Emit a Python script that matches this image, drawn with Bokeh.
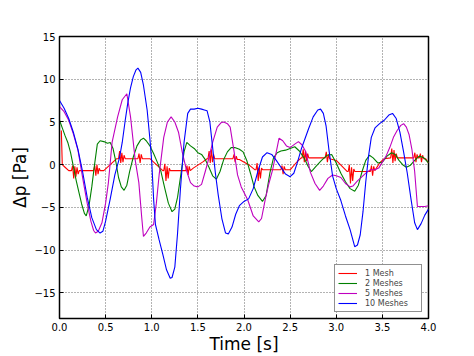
from bokeh.plotting import figure
from bokeh.models import Range1d, FixedTicker, NumeralTickFormatter
from bokeh.embed import file_html
from bokeh.resources import INLINE

# ---------------- data ----------------
x_ticks = [0.0, 0.5, 1.0, 1.5, 2.0, 2.5, 3.0, 3.5, 4.0]
y_ticks = [-15, -10, -5, 0, 5, 10, 15]
series_names = ["1 Mesh", "2 Meshes", "5 Meshes", "10 Meshes"]

t_red = [0.02, 0.03, 0.06, 0.10,
         0.13, 0.142, 0.154, 0.166, 0.178, 0.19, 0.202, 0.214,
         0.37, 0.382, 0.394, 0.406, 0.418, 0.43, 0.442,
         0.48, 0.55, 0.62,
         0.64, 0.652, 0.664, 0.676, 0.688, 0.70, 0.712,
         0.85, 0.862, 0.874, 0.886, 0.898,
         0.98, 1.05, 1.12,
         1.13, 1.142, 1.154, 1.166, 1.178, 1.19, 1.202,
         1.37, 1.382, 1.394, 1.406, 1.418,
         1.45, 1.55, 1.60,
         1.61, 1.622, 1.634, 1.646, 1.658, 1.67, 1.682,
         1.88, 1.892, 1.904, 1.916, 1.928,
         1.95, 2.05, 2.12,
         2.13, 2.142, 2.154, 2.166, 2.178, 2.19, 2.202,
         2.40, 2.412, 2.424, 2.436, 2.448,
         2.50, 2.58, 2.62,
         2.63, 2.642, 2.654, 2.666, 2.678, 2.69, 2.702,
         2.88, 2.892, 2.904, 2.916, 2.928,
         3.00, 3.12,
         3.13, 3.142, 3.154, 3.166, 3.178, 3.19, 3.202,
         3.37, 3.382, 3.394, 3.406, 3.418,
         3.47, 3.52,
         3.59, 3.602, 3.614, 3.626, 3.638, 3.65, 3.662,
         3.84, 3.852, 3.864, 3.876, 3.888,
         3.90, 3.912, 3.924, 3.936, 3.948,
         3.97, 4.00]
v_red = [4.0, 0.0, -0.3, -0.7,
         -0.7, -0.1, -1.6, -0.2, -1.4, -0.3, -1.1, -0.7,
         -0.7, -0.1, -1.3, 0.0, -1.1, -0.4, -0.7,
         -0.7, 0.0, 0.7,
         0.7, 1.6, 0.2, 1.4, 0.3, 1.1, 0.7,
         0.7, 1.3, 0.2, 1.2, 0.7,
         0.7, 0.0, -0.7,
         -0.7, 0.1, -1.9, -0.2, -1.6, -0.4, -0.7,
         -0.7, -0.1, -1.2, -0.2, -0.7,
         -0.4, 0.3, 0.7,
         0.7, 1.6, 0.2, 1.8, 0.3, 1.2, 0.7,
         0.7, 1.2, 0.3, 1.0, 0.6,
         0.6, 0.0, -0.6,
         -0.6, 0.2, -1.9, -0.3, -1.6, -0.4, -0.6,
         -0.6, -0.1, -1.1, -0.2, -0.6,
         -0.6, 0.4, 0.8,
         0.8, 1.8, 0.3, 1.6, 0.4, 1.3, 0.8,
         0.8, 1.5, 0.3, 1.2, 0.7,
         0.5, -0.8,
         -0.8, 0.0, -2.2, -0.3, -1.9, -0.5, -0.8,
         -0.8, -0.1, -1.3, -0.2, -0.7,
         0.2, 0.7,
         0.8, 1.9, 0.2, 1.7, 0.4, 1.3, 0.8,
         0.8, 1.4, 0.3, 1.2, 0.8,
         0.8, 1.3, 0.3, 1.1, 0.7,
         0.7, 0.2]

t_green = [0.00, 0.03, 0.06, 0.09, 0.12, 0.15, 0.18, 0.21, 0.24, 0.27,
           0.29, 0.32, 0.35, 0.38, 0.41, 0.44, 0.48, 0.52, 0.55, 0.58,
           0.61, 0.64, 0.67, 0.70, 0.73, 0.76, 0.80, 0.84, 0.88, 0.91,
           0.94, 0.98, 1.02, 1.06, 1.10, 1.14, 1.18, 1.22, 1.25, 1.28,
           1.32, 1.35, 1.38, 1.42, 1.46, 1.50, 1.54, 1.58, 1.62, 1.66,
           1.70, 1.74, 1.78, 1.82, 1.86, 1.90, 1.95, 1.99, 2.03, 2.07,
           2.11, 2.15, 2.20, 2.24, 2.28, 2.32, 2.36, 2.40, 2.45, 2.50,
           2.55, 2.60, 2.65, 2.70, 2.73, 2.78, 2.84, 2.90, 2.95, 3.00,
           3.05, 3.10, 3.15, 3.20, 3.24, 3.28, 3.32, 3.36, 3.40, 3.45,
           3.50, 3.55, 3.60, 3.64, 3.68, 3.72, 3.76, 3.80, 3.85, 3.90,
           3.95, 4.00]
v_green = [5.2, 4.3, 3.4, 2.6, 1.4, -0.2, -1.8, -3.2, -4.6, -5.7,
           -6.0, -4.8, -2.6, 0.0, 2.4, 2.8, 2.7, 2.5, 2.6, 1.9,
           0.4, -1.5, -2.6, -3.0, -2.4, -0.8, 0.9, 2.2, 2.9, 3.1,
           2.8, 2.2, 1.3, 0.3, -0.8, -2.7, -4.5, -5.5, -5.2, -3.8,
           -0.8, 1.5, 2.6, 2.2, 1.9, 1.4, 1.2, 0.6, -0.3, -1.3,
           -1.7, -0.8, 0.6, 1.5, 2.0, 2.0, 1.8, 1.5, 0.5, -1.0,
           -2.6, -3.6, -4.3, -3.6, -1.0, 0.8, 1.4, 1.6, 1.7, 1.9,
           2.1, 1.6, 0.8, -0.3, -0.8, -0.2, 0.5, 1.1, 1.2, 0.2,
           -1.0, -2.0, -2.8, -3.1, -2.4, -0.8, 0.5, 1.1, 0.8, 0.2,
           0.3, 1.0, 1.4, 1.2, 0.5, 0.0, -0.3, -0.1, 0.5, 1.0,
           0.8, 0.2]

t_magenta = [0.00, 0.05, 0.10, 0.15, 0.20, 0.26, 0.30, 0.34, 0.37, 0.39,
             0.42, 0.46, 0.50, 0.53, 0.57, 0.63, 0.68, 0.73, 0.77, 0.82,
             0.86, 0.89, 0.91, 0.94, 0.98, 1.02, 1.05, 1.08, 1.13, 1.17,
             1.21, 1.25, 1.29, 1.33, 1.38, 1.42, 1.46, 1.50, 1.54, 1.58,
             1.62, 1.66, 1.71, 1.75, 1.78, 1.82, 1.85, 1.89, 1.93, 1.97,
             2.04, 2.10, 2.16, 2.19, 2.23, 2.27, 2.31, 2.35, 2.38, 2.42,
             2.46, 2.50, 2.55, 2.59, 2.63, 2.67, 2.72, 2.77, 2.82, 2.86,
             2.91, 2.96, 3.00, 3.05, 3.10, 3.15, 3.18, 3.23, 3.28, 3.33,
             3.37, 3.42, 3.46, 3.50, 3.54, 3.58, 3.62, 3.66, 3.70, 3.73,
             3.76, 3.79, 3.82, 3.85, 3.88, 3.92, 3.96, 4.00]
v_magenta = [6.8, 6.2, 5.2, 3.6, 1.7, -2.1, -4.5, -6.6, -7.7, -8.0,
             -7.8, -6.8, -4.5, -2.1, 2.6, 5.6, 7.6, 8.3, 5.6, 0.6,
             -2.1, -6.0, -8.4, -8.0, -7.3, -7.0, -4.5, -1.2, 3.2, 5.0,
             5.6, 5.0, 3.8, 1.5, -0.8, -2.1, -2.5, -2.6, -2.3, -0.8,
             0.8, 2.6, 4.4, 4.9, 5.0, 4.8, 4.4, 1.7, -1.2, -2.6,
             -4.1, -6.0, -6.7, -6.3, -4.1, -2.2, -0.6, 1.5, 3.1, 2.8,
             2.2, 2.0, 2.4, 2.7, 2.3, 1.5, -0.9, -2.2, -3.0, -2.5,
             -1.6, -1.2, -1.3, -1.5, -2.2, -2.6, -2.5, -1.9, -1.4, -0.9,
             -0.6, -0.6, -0.4, 0.3, 1.0, 2.0, 3.2, 4.0, 4.6, 4.8,
             4.4, 3.5, 1.8, -0.8, -4.9, -4.9, -4.9, -4.8]

t_blue = [0.00, 0.05, 0.10, 0.15, 0.20, 0.25, 0.30, 0.35, 0.40, 0.44,
          0.47, 0.50, 0.55, 0.60, 0.65, 0.68, 0.71, 0.74, 0.77, 0.80,
          0.83, 0.85, 0.88, 0.91, 0.95, 0.98, 1.00, 1.02, 1.04, 1.08,
          1.12, 1.16, 1.20, 1.22, 1.25, 1.28, 1.31, 1.35, 1.39, 1.42,
          1.46, 1.50, 1.54, 1.57, 1.60, 1.63, 1.66, 1.69, 1.72, 1.76,
          1.80, 1.83, 1.87, 1.91, 1.95, 2.00, 2.05, 2.10, 2.15, 2.20,
          2.25, 2.30, 2.35, 2.40, 2.45, 2.50, 2.54, 2.58, 2.62, 2.66,
          2.70, 2.75, 2.80, 2.83, 2.86, 2.89, 2.92, 2.96, 3.00, 3.05,
          3.10, 3.15, 3.20, 3.23, 3.26, 3.29, 3.32, 3.35, 3.38, 3.42,
          3.47, 3.52, 3.57, 3.61, 3.65, 3.69, 3.73, 3.77, 3.81, 3.85,
          3.88, 3.92, 3.96, 4.00]
v_blue = [7.5, 6.6, 5.4, 3.8, 1.8, -0.8, -3.8, -6.2, -7.6, -8.0,
          -7.8, -6.6, -4.0, -1.2, 0.8, 2.6, 5.0, 7.2, 9.0, 10.3,
          11.1, 11.3, 10.8, 9.3, 6.4, 3.0, 0.3, -4.0, -7.0, -8.8,
          -10.5, -12.3, -13.3, -13.2, -12.0, -8.0, -3.0, 2.6, 6.0, 6.5,
          6.5, 6.6, 6.5, 6.4, 6.3, 5.0, 2.0, -1.0, -3.5, -6.3,
          -8.0, -8.1, -7.3, -5.8, -4.8, -4.3, -4.0, -2.8, -0.8, 0.9,
          1.4, 1.2, 0.5, -0.3, -1.1, -1.4, -1.0, 0.3, 1.8, 3.0,
          4.2, 5.6, 6.4, 6.5, 6.0, 4.5, 1.8, -1.3, -2.8, -4.2,
          -6.0, -7.6, -9.6, -9.4, -8.2, -5.5, -2.0, 1.0, 3.2, 4.3,
          4.8, 5.2, 5.8, 6.0, 5.4, 3.8, 1.5, -1.0, -4.0, -6.8,
          -7.6, -6.9, -5.9, -5.2]

# ---------------- figure ----------------
FONT = "DejaVu Sans"
p = figure(width=474, height=356, output_backend="svg", toolbar_location=None,
           x_range=Range1d(0, 4), y_range=Range1d(-18, 15),
           min_border_left=59, min_border_right=46,
           min_border_top=36, min_border_bottom=35)
p.background_fill_color = "white"
p.border_fill_color = "white"
p.outline_line_color = "black"
p.outline_line_width = 1.5

series = [(t_red, v_red, "#ff0000"), (t_green, v_green, "#008000"),
          (t_magenta, v_magenta, "#bf00bf"), (t_blue, v_blue, "#0000ff")]
for (tt, vv, col), name in zip(series, series_names):
    p.line(tt, vv, line_color=col, line_width=1.1, legend_label=name)

p.xaxis.ticker = FixedTicker(ticks=x_ticks)
p.yaxis.ticker = FixedTicker(ticks=y_ticks)
p.xaxis.formatter = NumeralTickFormatter(format="0.0")
p.xaxis.axis_label = "Time [s]"
p.yaxis.axis_label = "Δp [Pa]"
for ax in (p.xaxis, p.yaxis):
    ax.axis_line_color = "black"
    ax.major_tick_in = 4
    ax.major_tick_out = 0
    ax.minor_tick_line_color = None
    ax.major_label_text_font = FONT
    ax.major_label_text_font_size = "10px"
    ax.major_label_text_color = "black"
    ax.major_label_standoff = 4
    ax.axis_label_text_font = FONT
    ax.axis_label_text_font_size = "17px"
    ax.axis_label_text_font_style = "normal"
    ax.axis_label_text_color = "black"
p.xaxis.axis_label_standoff = 0
p.yaxis.axis_label_standoff = 1

for g in (p.xgrid, p.ygrid):
    g.grid_line_color = "black"
    g.grid_line_alpha = 0.6
    g.grid_line_dash = "1 2"
    g.grid_line_width = 1

lg = p.legend[0]
lg.location = "bottom_right"
lg.margin = 6
lg.padding = 3
lg.spacing = 0
lg.glyph_width = 19
lg.glyph_height = 10
lg.label_height = 10
lg.label_width = 53
lg.label_standoff = 8
lg.label_text_font = FONT
lg.label_text_font_size = "8px"
lg.border_line_color = "#222222"
lg.border_line_width = 1.5
lg.background_fill_alpha = 1.0

open("out.html", "w").write(file_html(p, INLINE))
